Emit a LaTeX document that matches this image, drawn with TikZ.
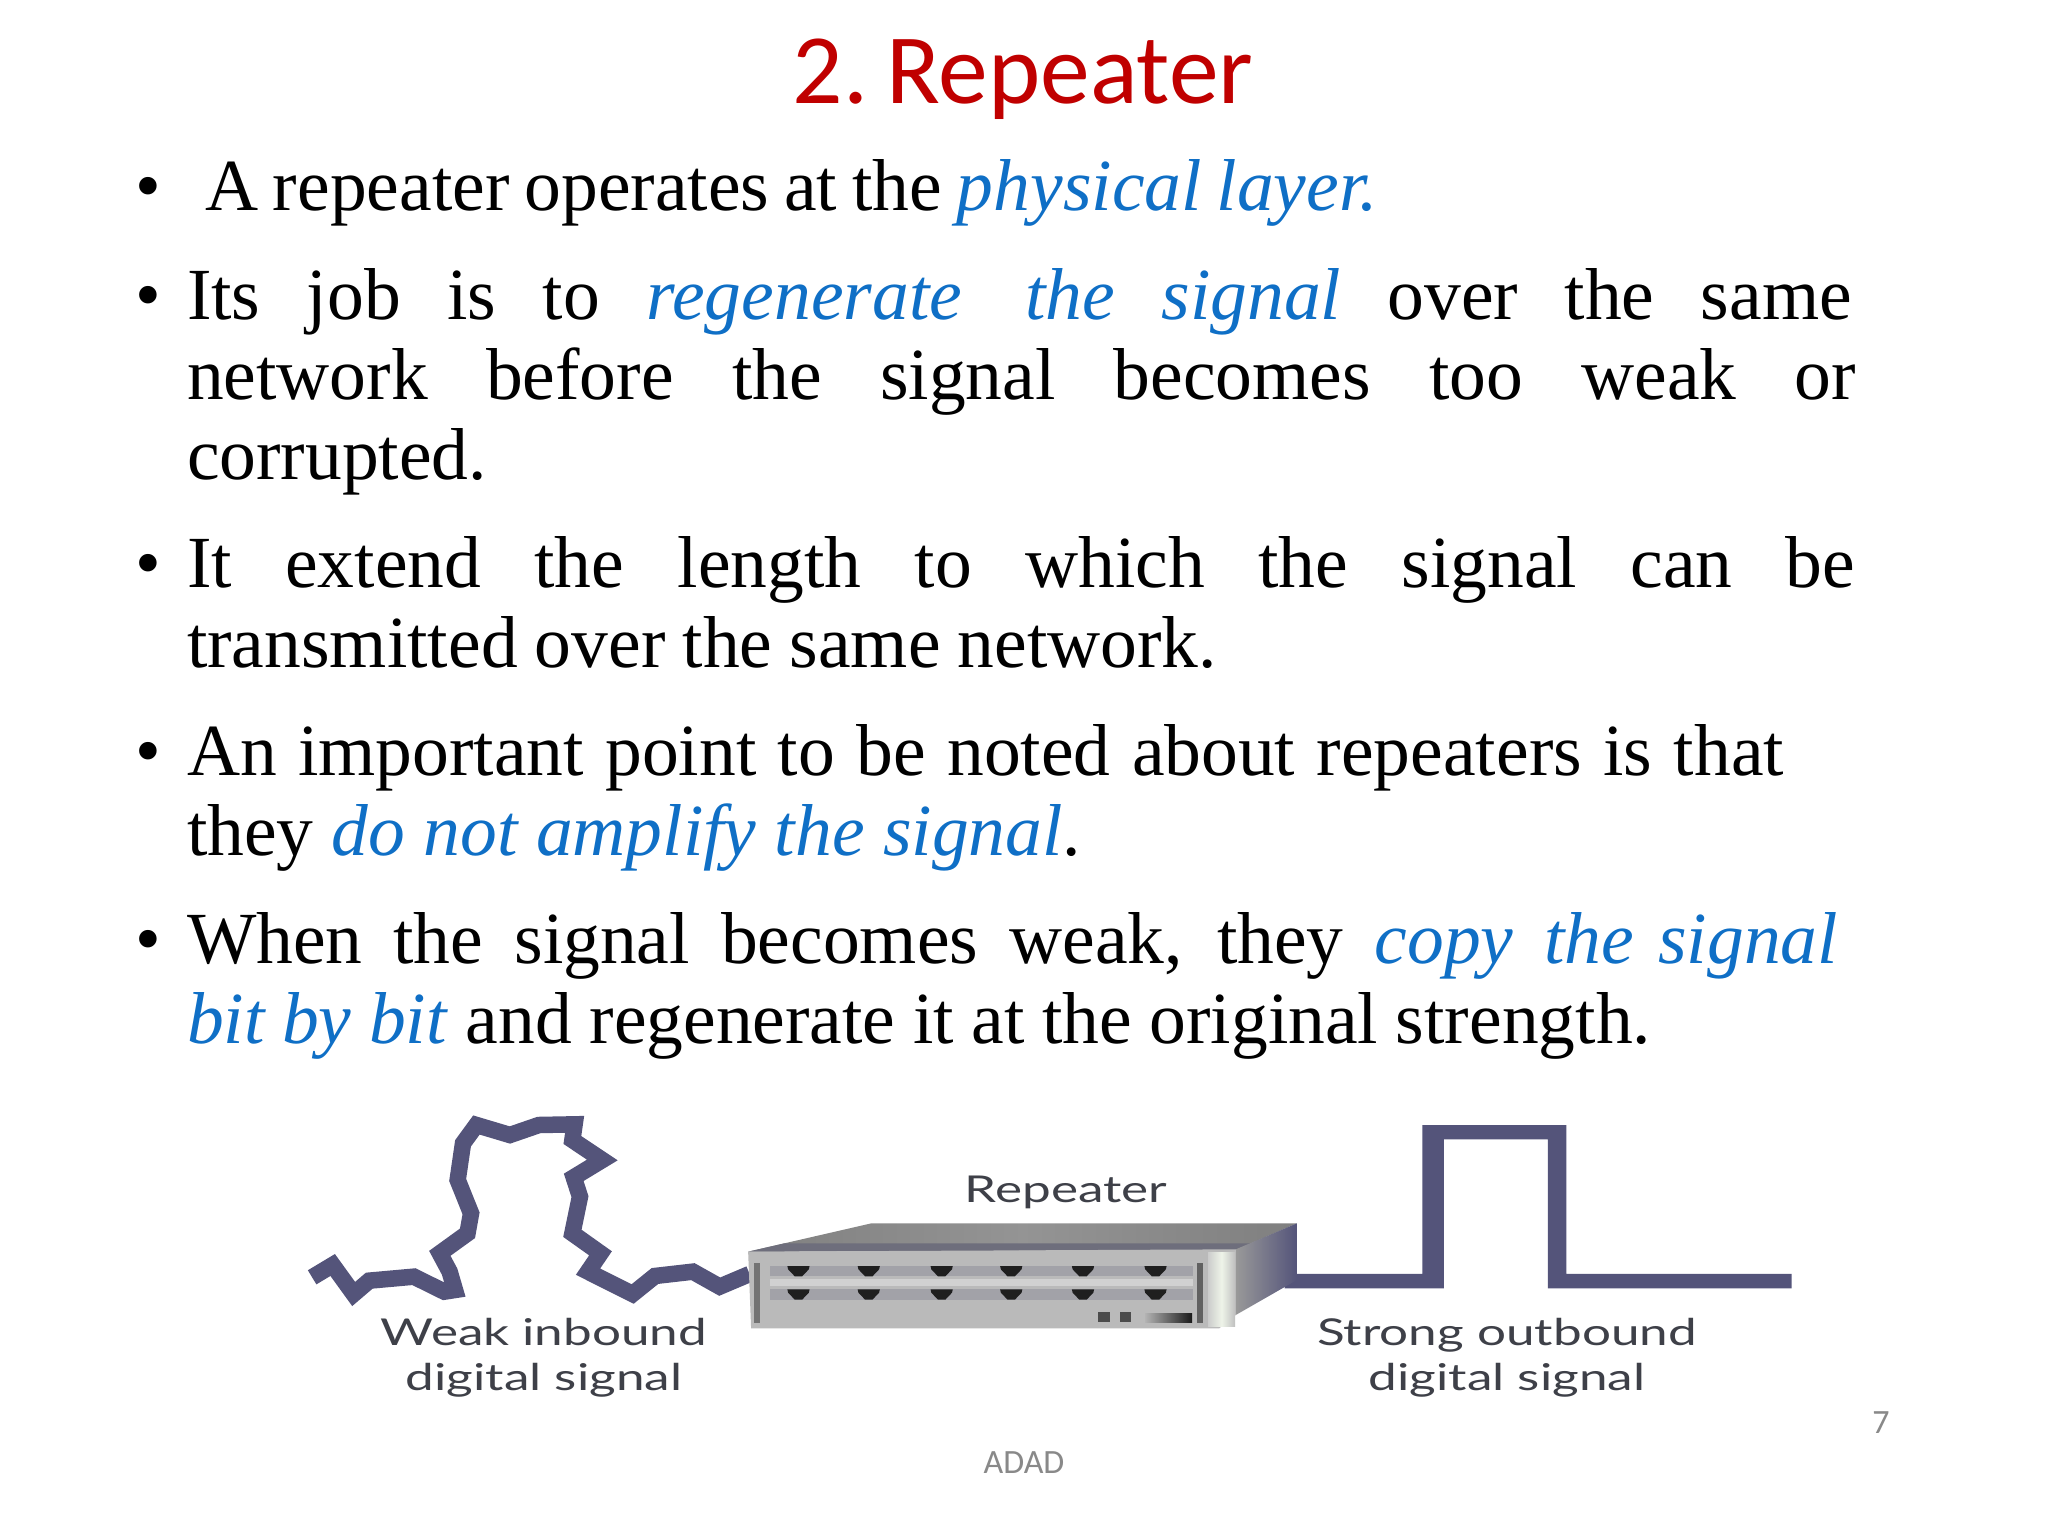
\documentclass[tikz,border=0pt]{standalone}
\usepackage{graphicx}
\usepackage{fontspec}
\setmainfont{Liberation Serif}
\newfontfamily\slidefont{Carlito}
\newfontfamily\labelfont{Lato}
\definecolor{slidered}{HTML}{C00000}
\definecolor{slideblue}{HTML}{0F6FC6}
\definecolor{wave}{HTML}{54547A}
\definecolor{pagegray}{HTML}{898989}
\definecolor{labelgray}{HTML}{3E4048}
\definecolor{bandgray}{HTML}{A2A2A8}
\definecolor{topband}{HTML}{6E6E7C}
\definecolor{glint}{HTML}{EEF4E8}
\newcommand{\bluetxt}[1]{\textcolor{slideblue}{\textit{#1}}}
\newcommand{\jline}[2]{\hbox to #1pt{\spaceskip=.25em plus 1fil minus 1fil\relax #2}}
\newcommand{\widesp}{\hskip .25em plus 1.6fil\relax}
\newcommand{\stretched}[1]{\scalebox{1.385}[1]{#1}}
\tikzset{
  body/.style={anchor=base west,inner sep=0pt,outer sep=0pt,text=black,font=\fontsize{73.5}{80}\selectfont},
  bul/.style={body},
  lab/.style={anchor=base,inner sep=0pt,outer sep=0pt,text=labelgray,font=\labelfont\fontsize{37}{45}\selectfont},
  foot/.style={anchor=base,inner sep=0pt,outer sep=0pt,text=pagegray,font=\slidefont\fontsize{34}{40}\selectfont},
  sigline/.style={draw=wave,line width=16.5pt,miter limit=3,line join=miter},
  port/.style={fill=black!88,draw=none}
}
\newcommand{\portat}[2]{\fill[port] (#1-30,#2) -- (#1+30,#2) -- (#1+28,#2+10) -- (#1+10,#2+31) -- (#1-10,#2+31) -- (#1-28,#2+10) -- cycle;}
\begin{document}
\begin{tikzpicture}[x=1pt,y=-1pt]
\useasboundingbox (0,0) rectangle (2048,1536);
\fill[white] (0,0) rectangle (2048,1536);
% title
\node[anchor=base,inner sep=0pt,text=slidered,font=\slidefont\fontsize{99.5}{100}\selectfont] (title) at (1023,104) {2.\hspace{18pt}Repeater};
% bullets
\node[bul] (b1) at (135,210) {•};
\node[bul] (b2) at (135,319) {•};
\node[bul] (b3) at (135,587) {•};
\node[bul] (b4) at (135,775) {•};
\node[bul] (b5) at (135,963) {•};
% text
\node[body] (l1) at (205,210) {\jline{1173}{A repeater operates at the \bluetxt{physical layer.}}};
\node[body] (l2) at (187,319) {\jline{1665}{Its job is to \bluetxt{regenerate\widesp the signal} over the same}};
\node[body] (l3) at (187,399) {\jline{1669}{network before the signal becomes too weak or}};
\node[body] (l4) at (187,479) {corrupted.};
\node[body] (l5) at (187,587) {\jline{1668}{It extend the length to which the signal can be}};
\node[body] (l6) at (187,667) {\jline{1030}{transmitted over the same network.}};
\node[body] (l7) at (187,775) {\jline{1597}{An important point to be noted about repeaters is that}};
\node[body] (l8) at (187,855) {they \bluetxt{do not amplify the signal}.};
\node[body] (l9) at (187,963) {\jline{1651}{When the signal becomes weak, they \bluetxt{copy the\kern 24pt signal}}};
\node[body] (l10) at (187,1043) {\jline{1464}{\bluetxt{bit by bit} and regenerate it at the original strength.}};
% weak wave
\begin{scope}[shift={(280,1090)},x=0.4464pt,y=-0.3333pt]
\draw[sigline] (72,562) -- (118,525) -- (165,612) -- (200,572) -- (300,560) -- (368,605) -- (392,600) -- (380,545) -- (358,490) -- (420,430) -- (428,370) -- (398,270) -- (410,160) -- (440,105) -- (515,135) -- (580,105) -- (660,103) -- (655,150) -- (722,210) -- (658,262) -- (672,320) -- (655,430) -- (718,490) -- (690,545) -- (790,612) -- (840,558) -- (925,545) -- (985,590) -- (1052,552);
\end{scope}
% strong wave
\begin{scope}[shift={(960,1090)},x=0.6124pt,y=-0.3333pt]
\fill[wave] (755,105) -- (990,105) -- (990,552) -- (1358,552) -- (1358,595) -- (960,595) -- (960,148) -- (790,148) -- (790,595) -- (530,595) -- (530,552) -- (755,552) -- cycle;
\end{scope}
% repeater box
\begin{scope}[shift={(740,1200)},x=0.37pt,y=-0.3333pt]
\shade[left color=black!50,right color=black!50,middle color=black!42] (22,155) -- (355,70) -- (1505,70) -- (1340,150) -- cycle;
\fill[topband] (120,130) -- (1400,130) -- (1340,150) -- (22,155) -- cycle;
\shade[left color=black!40,right color=wave] (1340,148) -- (1505,70) -- (1505,240) -- (1340,345) -- cycle;
\fill[black!27] (22,155) -- (1340,148) -- (1340,345) -- (1295,385) -- (30,385) -- cycle;
\fill[black!55] (38,190) rectangle (55,368);
\fill[black!62] (1236,190) rectangle (1252,368);
\shade[left color=black!20,right color=black!25,middle color=glint] (1265,158) rectangle (1338,378);
\fill[bandgray] (80,198) rectangle (1225,228);
\fill[bandgray] (80,268) rectangle (1225,300);
\fill[black!18] (80,238) rectangle (1225,258);
\foreach \px in {158,348,545,733,927,1123}{
  \portat{\px}{198}
  \portat{\px}{268}
}
\fill[black!70] (968,337) rectangle (1000,367);
\fill[black!70] (1028,337) rectangle (1058,367);
\shade[left color=black!30,right color=black!90] (1095,340) rectangle (1222,366);
\end{scope}
% labels
\node[lab] (rep) at (1066,1202) {\stretched{Repeater}};
\node[lab] (w1) at (544,1345) {\stretched{Weak inbound}};
\node[lab] (w2) at (544,1390) {\stretched{digital signal}};
\node[lab] (s1) at (1507,1345) {\stretched{Strong outbound}};
\node[lab] (s2) at (1507,1390) {\stretched{digital signal}};
% footer
\node[foot] (adad) at (1024,1473) {ADAD};
\node[foot] (pg) at (1881,1433) {7};
\end{tikzpicture}
\end{document}
